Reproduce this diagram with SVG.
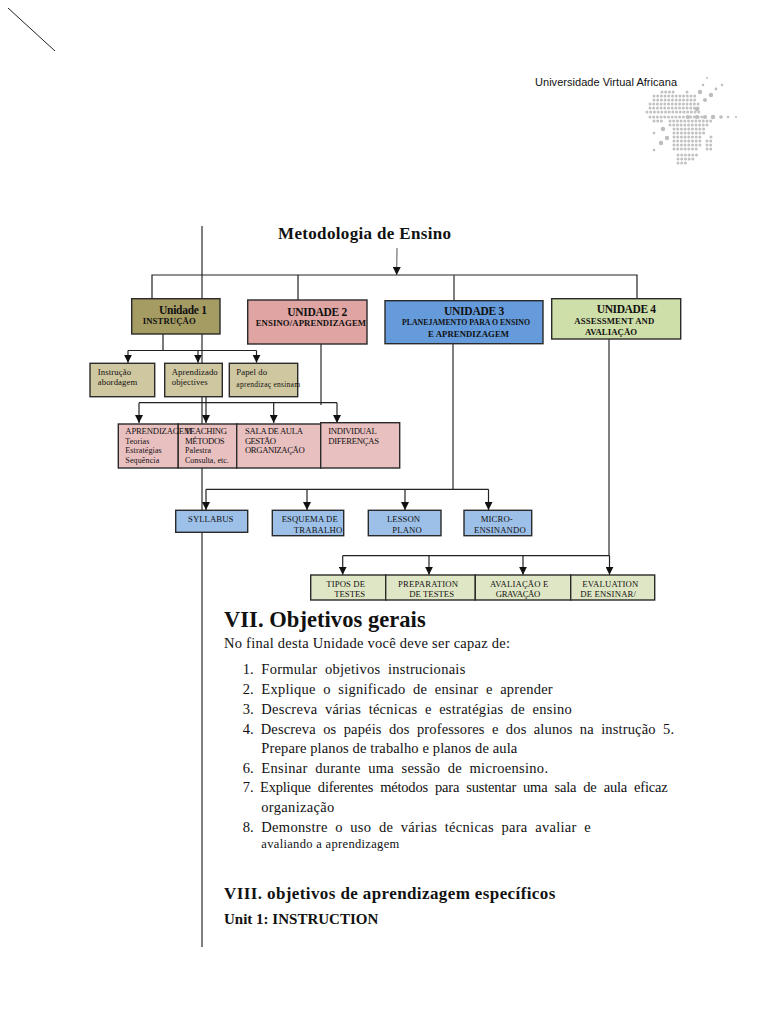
<svg xmlns="http://www.w3.org/2000/svg" width="768" height="1024" viewBox="0 0 768 1024">
<style>
text{font-family:"Liberation Serif","Times New Roman",serif;fill:#111}
.b{font-weight:bold}
.box{stroke:#2a2a2a;stroke-width:1.4}
.c{fill:none;stroke:#222;stroke-width:1.2}
.g{fill:none;stroke:#555;stroke-width:1.5}
.s{font-size:8.7px}
.t{font-size:8px}
.h{font-size:11.5px}
.l{font-size:14.5px}
.j{font-size:14.5px;word-spacing:3.6px}
.y{fill:none;stroke:#c2c2c2;stroke-width:3;stroke-linecap:round;stroke-dasharray:0 3.7}
.d{fill:#bdbdbd}
</style>
<defs>
<marker id="a" markerUnits="userSpaceOnUse" markerWidth="10" markerHeight="8" refX="8" refY="4" orient="auto"><path d="M0 0L8 4L0 8Z" fill="#111"/></marker>
</defs>
<line x1="8" y1="8" x2="55" y2="51" stroke="#222" stroke-width="1"/>
<g id="logo">
<text x="535" y="86" font-size="11" textLength="142" style="font-family:'Liberation Sans',Arial,sans-serif">Universidade Virtual Africana</text>
<path class="y" d="M662 92H674M687 92H688M654 96H697M654 100H697M650 104H700M650 108H700M647 112H702M650 117H707M654 121H665M670 121H713M670 125H710M674 129H705M674 133H705M674 137H703M711 137H712M674 141H702M707 141H713M674 145H700M707 145H713M674 149H698M707 149H713M678 155H697M678 159H693M678 163H688"/>
<circle class="d" cx="707" cy="78" r="1"/><circle class="d" cx="703" cy="85" r="1.3"/><circle class="d" cx="722" cy="85" r="1.2"/><circle class="d" cx="716" cy="89" r="1.4"/><circle class="d" cx="700" cy="92" r="2.2"/><circle class="d" cx="711" cy="95" r="2.2"/><circle class="d" cx="705" cy="100" r="2"/><circle class="d" cx="697" cy="109" r="2.2"/><circle class="d" cx="688" cy="117" r="2"/><circle class="d" cx="697" cy="117" r="2"/><circle class="d" cx="705" cy="117" r="2"/><circle class="d" cx="713" cy="117" r="2.2"/><circle class="d" cx="721" cy="117" r="1.8"/><circle class="d" cx="728" cy="117" r="1.2"/><circle class="d" cx="736" cy="117" r="1"/><circle class="d" cx="663" cy="129" r="2.2"/><circle class="d" cx="654" cy="133" r="1.3"/><circle class="d" cx="667" cy="138" r="2.2"/><circle class="d" cx="661" cy="143" r="2.2"/><circle class="d" cx="654" cy="150" r="1.3"/>
</g>
<text id="title" x="278" y="239" class="b" font-size="17" textLength="173">Metodologia de Ensino</text>
<line class="g" x1="202" y1="226" x2="202" y2="947"/>
<g id="connectors">
<path class="g" style="stroke-width:1" d="M397 248L396.7 275" marker-end="url(#a)"/>
<path class="c" d="M152 299V275H637V299M298 275V300"/>
<path class="g" d="M454 275V301"/>
<path class="c" d="M163 334V350.5M128 350.5H256.5"/>
<path class="c" d="M128 350.5V362.7" marker-end="url(#a)"/>
<path class="c" d="M198 350.5V362.7" marker-end="url(#a)"/>
<path class="c" d="M256.5 350.5V362.7" marker-end="url(#a)"/>
<path class="g" d="M321 344V405"/>
<path class="c" d="M139 402.7H337"/>
<path class="c" d="M139 402.7V423" marker-end="url(#a)"/>
<path class="c" d="M206 397V423" marker-end="url(#a)"/>
<path class="c" d="M273.7 402.7V423" marker-end="url(#a)"/>
<path class="c" d="M337 402.7V423" marker-end="url(#a)"/>
<path class="g" d="M453 344V489"/>
<path class="c" d="M206 489.3H488.5"/>
<path class="c" d="M206 489.3V510" marker-end="url(#a)"/>
<path class="c" d="M307 489.3V510" marker-end="url(#a)"/>
<path class="c" d="M405 489.3V510" marker-end="url(#a)"/>
<path class="c" d="M488.5 489.3V510" marker-end="url(#a)"/>
<path class="g" d="M609 339V556"/>
<path class="c" d="M342.7 555.7H609.5"/>
<path class="c" d="M342.7 555.7V574.7" marker-end="url(#a)"/>
<path class="c" d="M429 555.7V574.7" marker-end="url(#a)"/>
<path class="c" d="M523 555.7V574.7" marker-end="url(#a)"/>
<path class="c" d="M609.5 555.7V574.7" marker-end="url(#a)"/>
</g>
<g id="unidade1"><rect class="box" x="131.7" y="298.7" width="88.3" height="35.3" fill="#a59c64"/>
<text x="159" y="313.7" class="b h" textLength="48">Unidade 1</text><text x="142.7" y="324" class="b s" textLength="53">INSTRUÇÃO</text></g>
<g id="unidade2"><rect class="box" x="247.7" y="300" width="119.3" height="44" fill="#e0a4a2"/>
<text x="287.3" y="315.7" class="b h" textLength="60">UNIDADE 2</text><text x="255.7" y="326" class="b s" textLength="110.3">ENSINO/APRENDIZAGEM</text></g>
<g id="unidade3"><rect class="box" x="385" y="300.7" width="158" height="43" fill="#659bdb"/>
<text x="444" y="315.3" class="b h" textLength="60.3">UNIDADE 3</text><text x="402" y="324.7" class="b" font-size="7.8" textLength="128">PLANEJAMENTO PARA O ENSINO</text><text x="428" y="336.7" class="b s" textLength="81">E APRENDIZAGEM</text></g>
<g id="unidade4"><rect class="box" x="551.7" y="298.7" width="129" height="40.3" fill="#cfdfa9"/>
<text x="596.7" y="313.3" class="b h" textLength="59.3">UNIDADE 4</text><text x="574.3" y="324" class="b s" textLength="80">ASSESSMENT AND</text><text x="585" y="334.7" class="b s" textLength="52">AVALIAÇÃO</text></g>
<g id="instrucao"><rect class="box" x="90" y="363.3" width="64.7" height="33.4" fill="#cfc7a0"/>
<text x="97.7" y="375" class="s" textLength="33.3">Instrução</text><text x="97.7" y="384.7" class="s" textLength="39.6">abordagem</text></g>
<g id="aprendizado"><rect class="box" x="164.7" y="363.3" width="57.6" height="33.4" fill="#cfc7a0"/>
<text x="171.7" y="375" class="s" textLength="46">Aprendizado</text><text x="171.7" y="384.7" class="s" textLength="36">objectives</text></g>
<g id="papel"><rect class="box" x="229.3" y="363.3" width="68.4" height="33.4" fill="#cfc7a0"/>
<text x="236.3" y="375" class="s" textLength="30.7">Papel do</text><text x="236.3" y="386.7" font-size="7.5" textLength="63.7">aprendizaç  ensinam</text></g>
<g id="teaching-box"><rect class="box" x="178" y="424" width="58.7" height="44" fill="#e9c0c0"/></g>
<g id="aprendizagem"><rect class="box" x="118.3" y="424" width="59.7" height="44" fill="#e9c0c0"/>
<text x="125.3" y="434.3" class="s" textLength="66.4">APRENDIZAGEM</text><text x="125.3" y="444.3" class="t" textLength="24">Teorias</text><text x="125.3" y="453" class="t" textLength="36.4">Estratégias</text><text x="125.3" y="462.7" class="t" textLength="34">Sequência</text></g>
<g id="teaching">
<text x="185" y="434.3" class="s" textLength="42">TEACHING</text><text x="185" y="444.3" class="s" textLength="39.7">MÉTODOS</text><text x="185" y="453" class="t" textLength="26">Palestra</text><text x="185" y="462.7" class="t" textLength="43.7">Consulta, etc.</text></g>
<g id="sala"><rect class="box" x="236.7" y="424" width="84" height="44" fill="#e9c0c0"/>
<text x="245" y="434.3" class="s" textLength="58">SALA DE AULA</text><text x="245" y="444.3" class="s" textLength="31">GESTÃO</text><text x="245" y="453" class="s" textLength="59.7">ORGANIZAÇÃO</text></g>
<g id="individual"><rect class="box" x="320.7" y="422.7" width="79" height="45.3" fill="#e9c0c0"/>
<text x="328.3" y="434.3" class="s" textLength="48.4">INDIVIDUAL</text><text x="328.3" y="444" class="s" textLength="50.7">DIFERENÇAS</text></g>
<g id="syllabus"><rect class="box" x="175.7" y="510.3" width="72" height="22" fill="#9dc0e8"/>
<text x="188" y="522.3" class="s" textLength="45.3">SYLLABUS</text></g>
<g id="esquema"><rect class="box" x="272.3" y="510.3" width="71.4" height="25.4" fill="#9dc0e8"/>
<text x="281.7" y="522.3" class="s" textLength="56">ESQUEMA DE</text><text x="293.7" y="532.7" class="s" textLength="48.6">TRABALHO</text></g>
<g id="lesson"><rect class="box" x="368.3" y="510.3" width="72.7" height="25.4" fill="#9dc0e8"/>
<text x="387" y="522.3" class="s" textLength="33">LESSON</text><text x="392.3" y="532.7" class="s" textLength="29.4">PLANO</text></g>
<g id="micro"><rect class="box" x="464" y="510.3" width="67.7" height="25.4" fill="#9dc0e8"/>
<text x="480.7" y="522.3" class="s" textLength="32">MICRO-</text><text x="474" y="532.7" class="s" textLength="51.7">ENSINANDO</text></g>
<g id="tipos"><rect class="box" x="310.7" y="575" width="75" height="25" fill="#dfe6c5"/>
<text x="326.3" y="586.7" class="s" textLength="38.7">TIPOS DE</text><text x="334.3" y="597.3" class="s" textLength="30.7">TESTES</text></g>
<g id="preparation"><rect class="box" x="385.7" y="575" width="89.6" height="25" fill="#dfe6c5"/>
<text x="398" y="586.7" class="s" textLength="60">PREPARATION</text><text x="409.3" y="597.3" class="s" textLength="44.7">DE TESTES</text></g>
<g id="avaliacao"><rect class="box" x="475.3" y="575" width="95.4" height="25" fill="#dfe6c5"/>
<text x="490" y="586.7" class="s" textLength="58.3">AVALIAÇÃO E</text><text x="495.7" y="597.3" class="s" textLength="44.6">GRAVAÇÃO</text></g>
<g id="evaluation"><rect class="box" x="570.7" y="575" width="84" height="25" fill="#dfe6c5"/>
<text x="582.3" y="586.7" class="s" textLength="56">EVALUATION</text><text x="580.3" y="597.3" class="s" textLength="55.7">DE ENSINAR/</text></g>
<g id="texto">
<text x="224" y="626.7" class="b" font-size="22.5" textLength="201.7">VII. Objetivos gerais</text>
<text x="224" y="648.3" class="l" textLength="286">No final desta Unidade você deve ser capaz de:</text>
<text x="242.7" y="674" class="l">1.</text><text x="261.3" y="674" class="j" textLength="204">Formular objetivos instrucionais</text>
<text x="242.7" y="694" class="l">2.</text><text x="261.3" y="694" class="j" textLength="291.4">Explique o significado de ensinar e aprender</text>
<text x="242.7" y="714.3" class="l">3.</text><text x="261.3" y="714.3" class="j" textLength="310.4">Descreva várias técnicas e estratégias de ensino</text>
<text x="242.7" y="734.3" class="l">4.</text><text x="260.7" y="734.3" class="j" textLength="413.3">Descreva os papéis dos professores e dos alunos na instrução 5.</text>
<text x="261.3" y="752.7" class="l" textLength="256">Prepare planos de trabalho e planos de aula</text>
<text x="242.7" y="773" class="l">6.</text><text x="261.3" y="773" class="j" textLength="286.7">Ensinar durante uma sessão de microensino.</text>
<text x="242.7" y="792.3" class="l">7.</text><text x="260" y="792.3" class="j" textLength="407.7">Explique diferentes métodos para sustentar uma sala de aula eficaz</text>
<text x="261.3" y="811.7" class="l" textLength="73">organização</text>
<text x="242.7" y="831.7" class="l">8.</text><text x="261.3" y="831.7" class="j" textLength="329.4">Demonstre o uso de várias técnicas para avaliar e</text>
<text x="261.3" y="848.3" font-size="12.5" textLength="138">avaliando a aprendizagem</text>
<text x="224" y="899" class="b" font-size="17" textLength="331.3">VIII. objetivos de aprendizagem específicos</text>
<text x="224" y="924.3" class="b" font-size="15" textLength="154.3">Unit 1: INSTRUCTION</text>
</g>
</svg>
